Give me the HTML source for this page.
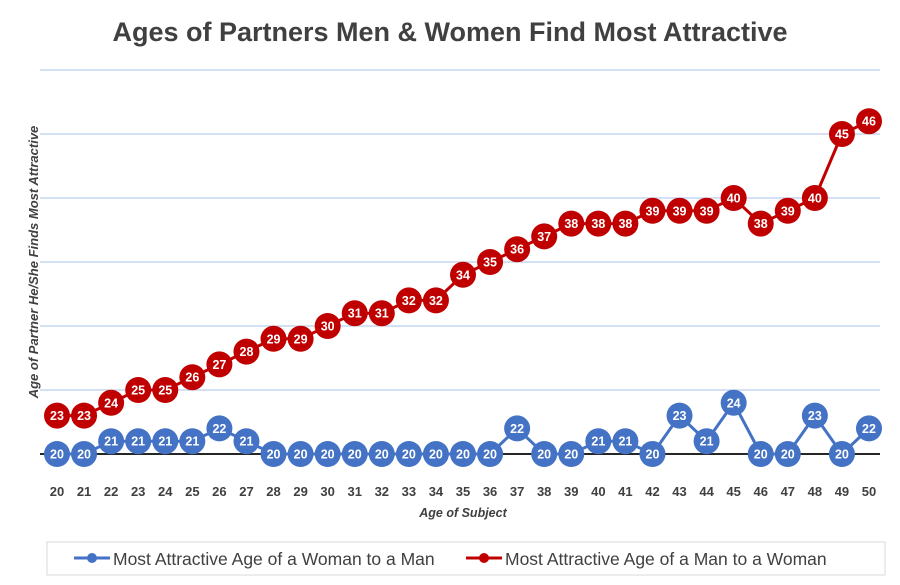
<!DOCTYPE html>
<html><head><meta charset="utf-8"><style>
body{margin:0;background:#fff;font-family:"Liberation Sans",sans-serif;}
svg{display:block}
</style></head><body>
<svg id="chart" width="900" height="585">
<text x="450" y="41" text-anchor="middle" font-size="27" font-weight="bold" fill="#404040">Ages of Partners Men &amp; Women Find Most Attractive</text>
<g id="grid"></g>
<text transform="translate(38,262) rotate(-90)" text-anchor="middle" font-size="13" font-weight="bold" font-style="italic" fill="#404040">Age of Partner He/She Finds Most Attractive</text>
<text x="463" y="517" text-anchor="middle" font-size="12.5" font-weight="bold" font-style="italic" fill="#404040">Age of Subject</text>
<g id="xticks"></g>
<g id="series"></g>
<g>
<rect x="47" y="542" width="838" height="33" fill="#fff" stroke="#d9d9d9"/>
<g>
<line x1="74" y1="558" x2="110" y2="558" stroke="#4472C4" stroke-width="3"/><circle cx="92" cy="558" r="5" fill="#4472C4"/>
<text x="113" y="565" font-size="17.5" fill="#404040">Most Attractive Age of a Woman to a Man</text></g>
<g>
<line x1="466" y1="558" x2="502" y2="558" stroke="#C00000" stroke-width="3"/><circle cx="484" cy="558" r="5" fill="#C00000"/>
<text x="505" y="565" font-size="17.5" fill="#404040">Most Attractive Age of a Man to a Woman</text></g>
</g>
</svg>
<script>
const categories=[20,21,22,23,24,25,26,27,28,29,30,31,32,33,34,35,36,37,38,39,40,41,42,43,44,45,46,47,48,49,50];
const womanToMan=[20,20,21,21,21,21,22,21,20,20,20,20,20,20,20,20,20,22,20,20,21,21,20,23,21,24,20,20,23,20,22];
const manToWoman=[23,23,24,25,25,26,27,28,29,29,30,31,31,32,32,34,35,36,37,38,38,38,39,39,39,40,38,39,40,45,46];
const yTicks=[20,25,30,35,40,45,50];
const NS="http://www.w3.org/2000/svg";
function xs(i){return 57+i*(812/30);}
function ys(v){return 454-(v-20)*12.8;}
function mk(tag,attrs,parent){const e=document.createElementNS(NS,tag);for(const k in attrs)e.setAttribute(k,attrs[k]);parent.appendChild(e);return e;}
const grid=document.getElementById('grid');
yTicks.forEach(t=>{const l=mk('line',{x1:40,x2:880,y1:ys(t),y2:ys(t),stroke:t===20?'#262626':'#aec2e8','stroke-width':t===20?2:1},grid);

});
const xt=document.getElementById('xticks');
categories.forEach((c,i)=>{const t=mk('text',{x:xs(i),y:496,'text-anchor':'middle','font-size':13,'font-weight':'bold',fill:'#404040'},xt);t.textContent=c;

});
const sg=document.getElementById('series');
function draw(vals,color,name){const g=mk('g',{},sg);


const p=mk('polyline',{points:vals.map((v,i)=>xs(i)+','+ys(v)).join(' '),fill:'none',stroke:color,'stroke-width':3},g);


vals.forEach((v,i)=>{const c=mk('circle',{cx:xs(i),cy:ys(v),r:13,fill:color},g);


const t=mk('text',{x:xs(i),y:ys(v)+4.5,'text-anchor':'middle','font-size':12.5,'font-weight':'bold',fill:'#fff'},g);t.textContent=v;

});}
draw(womanToMan,'#4472C4','series-woman-to-man');
draw(manToWoman,'#C00000','series-man-to-woman');
</script>
</body></html>
